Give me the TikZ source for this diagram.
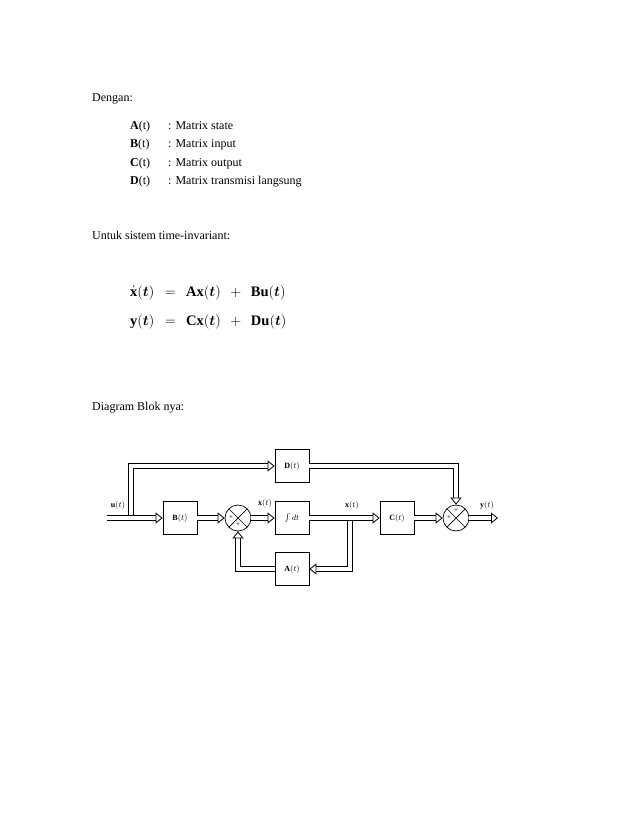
\documentclass[tikz,border=0pt]{standalone}
\usepackage{amsmath}
\usepackage{fontspec}
\setmainfont{Liberation Serif}
\usetikzlibrary{arrows.meta}
\begin{document}
\begin{tikzpicture}[x=1pt,y=-1pt,
  txt/.style={anchor=base west,inner sep=0,font=\fontsize{12}{14}\selectfont},
  eq/.style={anchor=base west,inner sep=0,font=\fontsize{14.5}{16}\selectfont},
  blk/.style={draw,line width=0.7pt,minimum width=34pt,minimum height=33pt,font=\fontsize{8}{9}\selectfont},
  sumc/.style={draw,circle,line width=0.7pt,minimum size=26pt,inner sep=0,
    path picture={\draw (path picture bounding box.north west)--(path picture bounding box.south east)
      (path picture bounding box.north east)--(path picture bounding box.south west);}},
  sig/.style={draw=black,line join=miter,line width=5.6pt,shorten >=6pt,
    postaction={draw=white,line width=4pt,shorten >=5.5pt},
    postaction={draw=white,line width=0.1pt,shorten >=0pt,-{Triangle[color=black,fill=white,length=7pt,width=11pt,line width=0.8pt]}}},
  lab/.style={font=\fontsize{8}{9}\selectfont,inner sep=1pt},
  pl/.style={font=\fontsize{7}{7}\selectfont,inner sep=0}]
\useasboundingbox (0,0) rectangle (638,826);
\node[txt] (t1) at (92,102) {Dengan:};
\node[txt] (a1) at (130,130) {\textbf{A}(t)};
\node[txt] (a2) at (168,130) {: Matrix state};
\node[txt] (b1) at (130,148) {\textbf{B}(t)};
\node[txt] (b2) at (168,148) {: Matrix input};
\node[txt] (c1) at (130,167) {\textbf{C}(t)};
\node[txt] (c2) at (168,167) {: Matrix output};
\node[txt] (d1) at (130,185) {\textbf{D}(t)};
\node[txt] (d2) at (168,185) {: Matrix transmisi langsung};
\node[txt] (t2) at (92,240) {Untuk sistem time-invariant:};
\node[eq] (e1) at (130,296) {$\dot{\mathbf{x}}(\boldsymbol{t})\;\,=\;\,\mathbf{Ax}(\boldsymbol{t})\;\,+\;\,\mathbf{Bu}(\boldsymbol{t})$};
\node[eq] (e2) at (130,325) {$\mathbf{y}(\boldsymbol{t})\;\,=\;\,\mathbf{Cx}(\boldsymbol{t})\;\,+\;\,\mathbf{Du}(\boldsymbol{t})$};
\node[txt] (t3) at (92,410) {Diagram Blok nya:};
% block diagram
\node[blk] (D) at (292,466) {$\mathbf{D}(t)$};
\node[blk] (B) at (180,518) {$\mathbf{B}(t)$};
\node[blk] (I) at (292,518) {$\int dt$};
\node[blk] (C) at (397,518) {$\mathbf{C}(t)$};
\node[blk] (A) at (292,569) {$\mathbf{A}(t)$};
\node[sumc] (S1) at (238,518) {};
\node[sumc] (S2) at (456,518) {};
\node[pl] (p1) at ([xshift=-7pt]S1.center) {+};
\node[pl] (p2) at ([yshift=-7pt]S1.center) {+};
\node[pl] (p3) at ([yshift=7pt]S2.center) {+};
\node[pl] (p4) at ([xshift=-7pt]S2.center) {+};
\coordinate (u0) at (107,518);
\coordinate (br) at (131,518);
\coordinate (xb) at (350,518);
\coordinate (yo) at (498,518);
\node[lab,anchor=south] (ul) at (118,511) {$\mathbf{u}(t)$};
\node[lab,anchor=south] (xdl) at (265,509) {$\dot{\mathbf{x}}(t)$};
\node[lab,anchor=south] (xl) at (352,511) {$\mathbf{x}(t)$};
\node[lab,anchor=south] (yl) at (487,511) {$\mathbf{y}(t)$};
\draw[sig] (br) |- (D.west);
\draw[sig] (xb) |- (A.east);
\draw[sig] (u0) -- (B.west);
\draw[sig] (B.east) -- (S1.west);
\draw[sig] (S1.east) -- (I.west);
\draw[sig] (I.east) -- (C.west);
\draw[sig] (A.west) -| (S1.south);
\draw[sig] (C.east) -- (S2.west);
\draw[sig] (D.east) -| (S2.north);
\draw[sig] (S2.east) -- (yo);
\end{tikzpicture}
\end{document}
